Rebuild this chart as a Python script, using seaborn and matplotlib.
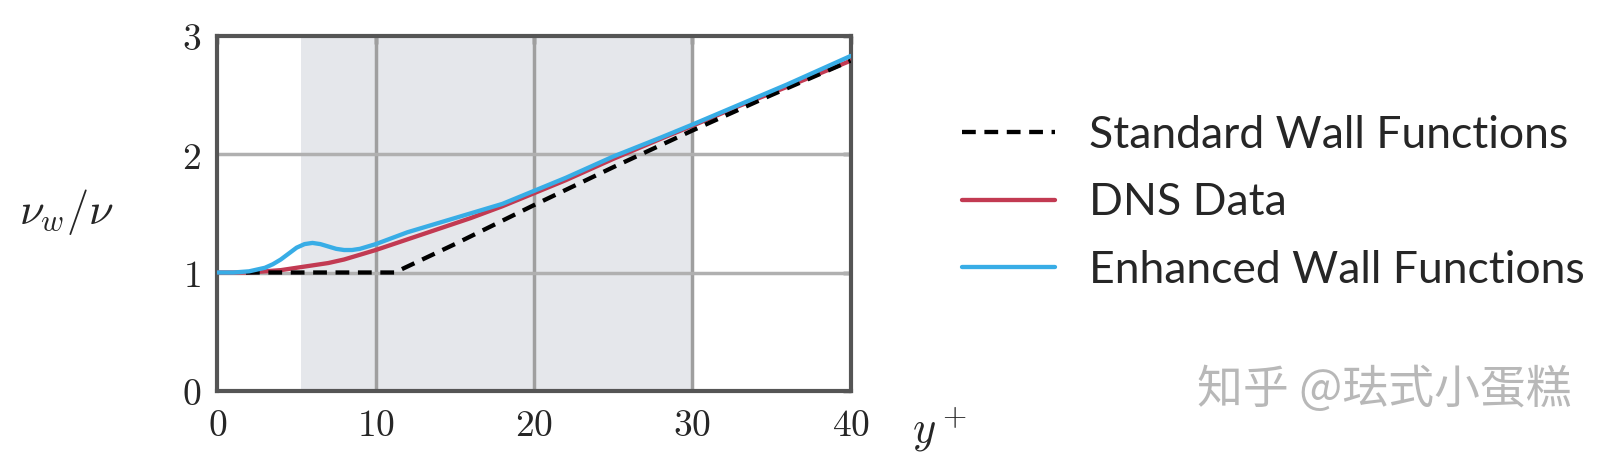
import numpy as np
import pandas as pd
import seaborn as sns
import matplotlib.pyplot as plt

# ---- data ----
std_x = [1.8, 11.2, 15, 20, 25, 30, 35, 40]
std_y = [1.0, 1.0, 1.24, 1.57, 1.89, 2.2, 2.5, 2.79]

dns_x = [0, 2, 3, 4, 5, 6, 7, 8, 9, 10, 12, 14, 16, 18, 20, 22, 25, 28, 30, 33, 36, 40]
dns_y = [1.0, 1.0, 1.01, 1.02, 1.04, 1.06, 1.08, 1.11, 1.15, 1.19, 1.28, 1.37, 1.46, 1.56, 1.67, 1.78, 1.96, 2.13, 2.24, 2.41, 2.57, 2.79]

enh_x = [0, 1, 2, 3, 3.5, 4, 4.5, 5, 5.5, 6, 6.5, 7, 7.5, 8, 8.5, 9, 10, 11, 12, 14, 16, 18, 20, 22, 25, 28, 30, 33, 36, 40]
enh_y = [1.0, 1.0, 1.01, 1.04, 1.07, 1.11, 1.16, 1.21, 1.24, 1.25, 1.24, 1.22, 1.2, 1.19, 1.19, 1.2, 1.24, 1.29, 1.34, 1.42, 1.5, 1.58, 1.69, 1.8, 1.98, 2.14, 2.25, 2.42, 2.59, 2.83]

shade_span = (5.3, 30)
x_ticks = [0, 10, 20, 30, 40]
y_ticks = [0, 1, 2, 3]

sns.set_style("white")
plt.rcParams["mathtext.fontset"] = "cm"
plt.rcParams["font.family"] = ["Lato", "DejaVu Sans"]

fig = plt.figure(figsize=(16.11, 4.72), dpi=100)
ax = fig.add_axes([0.135, 0.172, 0.393, 0.752])

ax.axvspan(*shade_span, color="#e5e7eb", zorder=0, lw=0)
for v in [10, 20, 30]:
    ax.axvline(v, color="#9f9f9f", lw=2.5, zorder=1)
for v in [1, 2]:
    ax.axhline(v, color="#b0b0b0", lw=2.5, zorder=1)

lw = 3.1
sns.lineplot(x=dns_x, y=dns_y, ax=ax, color="#c23a52", lw=lw, label="DNS Data", zorder=3)
sns.lineplot(x=std_x, y=std_y, ax=ax, color="black", lw=lw, dashes=False, zorder=4,
             label="Standard Wall Functions").lines[-1].set_dashes([3.2, 2])
sns.lineplot(x=enh_x, y=enh_y, ax=ax, color="#38ade6", lw=lw, label="Enhanced Wall Functions", zorder=5)

ax.set_xlim(0, 40)
ax.set_ylim(0, 3)
ax.set_xticks(x_ticks)
ax.set_yticks(y_ticks)
ax.set_xticklabels([f"${t}$" for t in x_ticks], fontsize=27)
ax.set_yticklabels([f"${t}$" for t in y_ticks], fontsize=27)
ax.tick_params(axis="both", direction="in", length=6, width=2.5, color="#555555", pad=12)
ax.tick_params(top=True, right=True)
for s in ax.spines.values():
    s.set_color("#555555")
    s.set_linewidth(3)

ax.set_xlabel("")
ax.set_ylabel("")
fig.text(0.012, 0.55, r"$\nu_w/\nu$", fontsize=32, va="center", ha="left")
fig.text(0.566, 0.09, r"$y^+$", fontsize=32, va="center", ha="left")

handles, labels = ax.get_legend_handles_labels()
order = [labels.index("Standard Wall Functions"), labels.index("DNS Data"),
         labels.index("Enhanced Wall Functions")]
ax.legend([handles[i] for i in order], [labels[i] for i in order],
          loc="center left", bbox_to_anchor=(1.113, 0.53), frameon=False,
          fontsize=32, handlelength=2.1, labelspacing=0.6, handletextpad=0.75)

fig.text(0.743, 0.174, "知乎 @珐式小蛋糕", fontsize=33, color="#b8b8b8",
         family=["Noto Sans CJK SC", "DejaVu Sans"], va="center")

fig.savefig("out.png", dpi=100)
